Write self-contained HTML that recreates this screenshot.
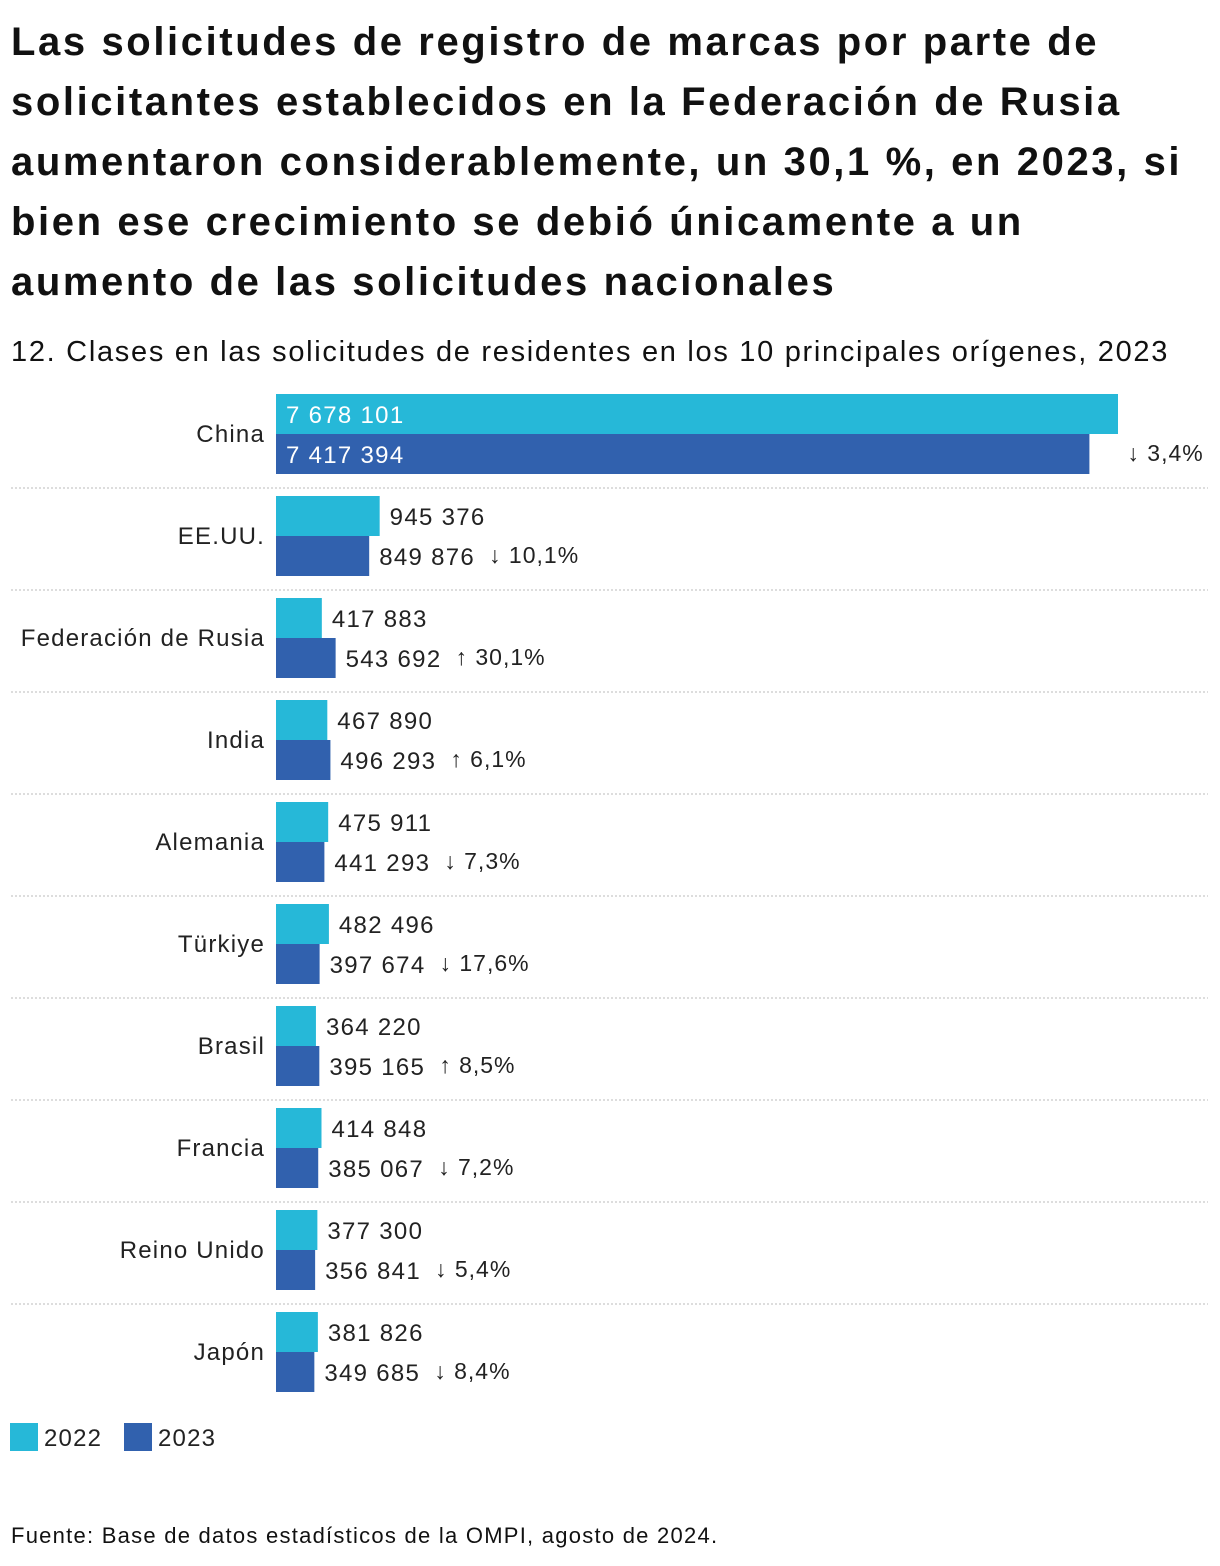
<!DOCTYPE html>
<html><head><meta charset="utf-8">
<style>
body{margin:0;background:#fff;width:1220px;height:1566px;overflow:hidden;font-family:"Liberation Sans",sans-serif;color:#111}
h1{position:absolute;left:11px;top:12px;margin:0;font-size:40px;line-height:60px;font-weight:bold;width:1215px;letter-spacing:2.6px;white-space:nowrap;overflow:hidden}
.sub{position:absolute;left:11px;top:336px;font-size:29px;letter-spacing:1.7px;white-space:nowrap}
.src{position:absolute;left:11px;top:1523px;font-size:22px;letter-spacing:1.25px;white-space:nowrap}
svg{position:absolute;left:0;top:0}
</style></head><body>
<h1>Las solicitudes de registro de marcas por parte de<br>solicitantes establecidos en la Federación de Rusia<br>aumentaron considerablemente, un 30,1 %, en 2023, si<br>bien ese crecimiento se debió únicamente a un<br>aumento de las solicitudes nacionales</h1>
<div class="sub">12. Clases en las solicitudes de residentes en los 10 principales orígenes, 2023</div>
<svg id="chart" width="1220" height="1566"></svg>
<div class="src">Fuente: Base de datos estadísticos de la OMPI, agosto de 2024.</div>
<script>
const countries=["China","EE.UU.","Federación de Rusia","India","Alemania","Türkiye","Brasil","Francia","Reino Unido","Japón"];
const values2022=[7678101,945376,417883,467890,475911,482496,364220,414848,377300,381826];
const values2023=[7417394,849876,543692,496293,441293,397674,395165,385067,356841,349685];
const seriesNames=["2022","2023"];
const NS="http://www.w3.org/2000/svg";
const svg=document.getElementById('chart');
const x0=276,xMax=7678101,wMax=842;
const xs=v=>v/xMax*wMax;
const rowY=i=>394+i*102;
const colors=["#26b8d8","#3161ae"];
function fmt(v){return String(v).replace(/\B(?=(\d{3})+(?!\d))/g," ");}
function mk(tag,attrs,txt){const e=document.createElementNS(NS,tag);for(const k in attrs)e.setAttribute(k,attrs[k]);if(txt!=null)e.textContent=txt;svg.appendChild(e);return e;}
countries.forEach((c,i)=>{
  const y=rowY(i);
  const lab=mk('text',{x:265,y:y+48,'text-anchor':'end','font-size':24,fill:'#222','letter-spacing':1.2},c);
  
  
  if(i>0){const l=mk('line',{x1:11,x2:1208,y1:y-8,y2:y-8,stroke:'#bbb','stroke-dasharray':'2,2'});
    
    }
  let end23=0;
  [values2022[i],values2023[i]].forEach((v,s)=>{
    const w=xs(v),by=y+s*40;
    const r=mk('rect',{x:x0,y:by,width:w,height:40,fill:colors[s]});
    
    
    const inside=w>300;
    const t=mk('text',{x:inside?x0+10:x0+w+10,y:by+29,'font-size':24,fill:inside?'#fff':'#222','letter-spacing':1.3},fmt(v));
    
    
    if(s===1)end23=inside?x0+w+24:(x0+w+10+t.getComputedTextLength());
  });
  const ch=(values2023[i]-values2022[i])/values2022[i]*100;
  const txt=(ch<0?"↓ ":"↑ ")+Math.abs(ch).toFixed(1).replace('.',',')+"%";
  const p=mk('text',{x:Math.min(end23+14,1128),y:y+67,'font-size':23,fill:'#222','letter-spacing':1},txt);
  
  
});
seriesNames.forEach((n,s)=>{
  const lx=10+s*114;
  const r=mk('rect',{x:lx,y:1423,width:28,height:28,fill:colors[s]});
  
  
  const t=mk('text',{x:lx+34,y:1446,'font-size':24,fill:'#222','letter-spacing':1.2},n);
  
  
});
</script>
</body></html>
